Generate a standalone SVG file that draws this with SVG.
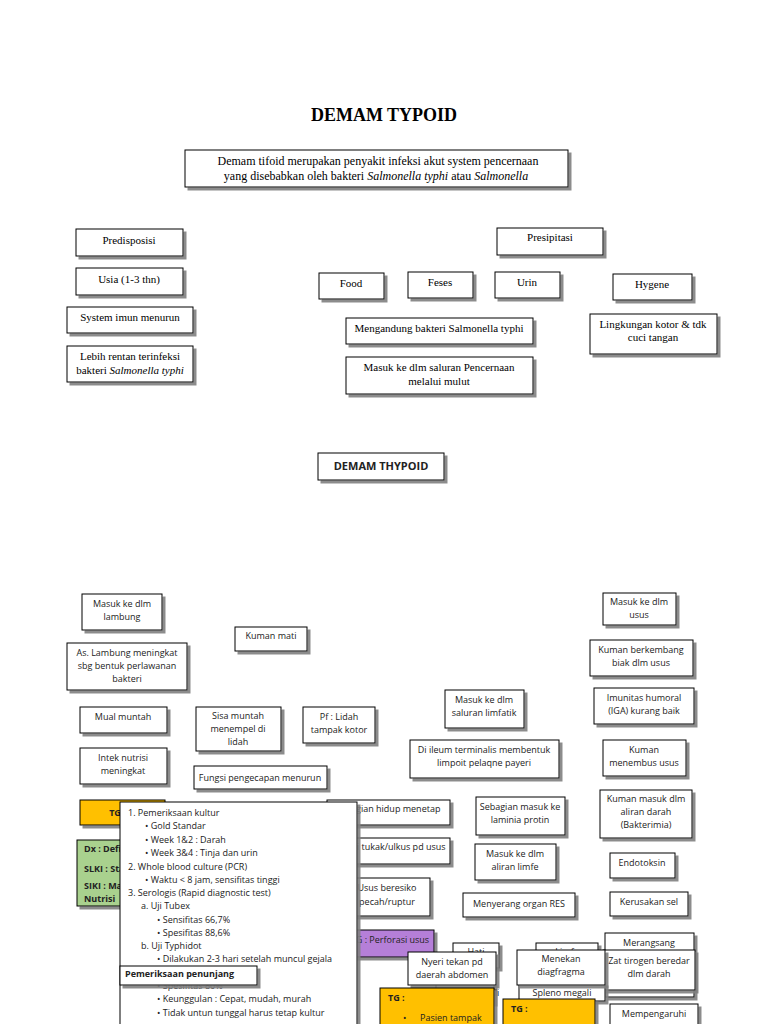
<svg xmlns="http://www.w3.org/2000/svg" width="768" height="1024" viewBox="0 0 768 1024">
<defs>
<filter id="sh" x="-10%" y="-10%" width="130%" height="140%"><feDropShadow dx="3" dy="3" stdDeviation="0.6" flood-color="#7f7f7f" flood-opacity="0.9"/></filter>
</defs>
<style>
.b{fill:#fff;stroke:#000;stroke-width:1;filter:url(#sh)}
.o{fill:#ffc000;stroke:#000;stroke-width:1;filter:url(#sh)}
.g{fill:#a9d18e;stroke:#000;stroke-width:1;filter:url(#sh)}
.p{fill:#b57fd8;stroke:#000;stroke-width:1;filter:url(#sh)}
.s{font-family:"Liberation Serif",serif;font-size:11px;fill:#000;text-anchor:middle}
.n{font-family:"Open Sans","Liberation Sans",sans-serif;font-size:9px;fill:#222;text-anchor:middle}
.l{font-family:"Open Sans","Liberation Sans",sans-serif;font-size:9px;fill:#222}
.bd{font-weight:bold}
</style>
<rect width="768" height="1024" fill="#fff"/>
<text x="384" y="121" class="s bd" style="font-size:18px">DEMAM TYPOID</text>
<g id="def"><rect class="b" x="185" y="150" width="383" height="37"/><text class="s" style="font-size:12px"><tspan x="378" y="165">Demam tifoid merupakan penyakit infeksi akut system pencernaan</tspan><tspan x="376" y="180">yang disebabkan oleh bakteri <tspan font-style="italic">Salmonella typhi</tspan> atau <tspan font-style="italic">Salmonella</tspan></tspan></text></g>
<g id="pred"><rect class="b" x="76" y="229" width="107" height="27"/><text class="s" x="129" y="244">Predisposisi</text></g>
<g id="usia"><rect class="b" x="76" y="268" width="107" height="27"/><text class="s" x="129" y="283">Usia (1-3 thn)</text></g>
<g id="imun"><rect class="b" x="67" y="307" width="126" height="26"/><text class="s" x="130" y="321">System imun menurun</text></g>
<g id="rentan"><rect class="b" x="67" y="346" width="126" height="36"/><text class="s"><tspan x="130" y="360">Lebih rentan terinfeksi</tspan><tspan x="130" y="374">bakteri <tspan font-style="italic">Salmonella typhi</tspan></tspan></text></g>
<g id="pres"><rect class="b" x="497" y="228" width="106" height="27"/><text class="s" x="550" y="241">Presipitasi</text></g>
<g id="food"><rect class="b" x="319" y="273" width="65" height="26"/><text class="s" x="351" y="287">Food</text></g>
<g id="feses"><rect class="b" x="408" y="272" width="65" height="26"/><text class="s" x="440" y="286">Feses</text></g>
<g id="urin"><rect class="b" x="495" y="272" width="65" height="26"/><text class="s" x="527" y="286">Urin</text></g>
<g id="hyg"><rect class="b" x="613" y="274" width="79" height="26"/><text class="s" x="652" y="288">Hygene</text></g>
<g id="meng"><rect class="b" x="346" y="318" width="187" height="26"/><text class="s" x="439" y="332">Mengandung bakteri Salmonella typhi</text></g>
<g id="sal"><rect class="b" x="346" y="357" width="187" height="37"/><text class="s"><tspan x="439" y="371">Masuk ke dlm saluran Pencernaan</tspan><tspan x="439" y="385">melalui mulut</tspan></text></g>
<g id="ling"><rect class="b" x="590" y="314" width="127" height="40"/><text class="s"><tspan x="653" y="328">Lingkungan kotor &amp; tdk</tspan><tspan x="653" y="341">cuci tangan</tspan></text></g>
<g id="dt"><rect class="b" x="318" y="453" width="126" height="27"/><text class="n bd" style="font-size:11px" x="381" y="470">DEMAM THYPOID</text></g>

<g id="lamb"><rect class="b" x="82" y="594" width="80" height="36"/><text class="n"><tspan x="122" y="607">Masuk ke dlm</tspan><tspan x="122" y="620">lambung</tspan></text></g>
<g id="mati"><rect class="b" x="235" y="627" width="72" height="24"/><text class="n" x="271" y="639">Kuman mati</text></g>
<g id="asl"><rect class="b" x="67" y="643" width="120" height="47"/><text class="n"><tspan x="127" y="656">As. Lambung meningkat</tspan><tspan x="127" y="669">sbg bentuk perlawanan</tspan><tspan x="127" y="682">bakteri</tspan></text></g>
<g id="mual"><rect class="b" x="80" y="707" width="87" height="26"/><text class="n" x="123" y="720">Mual muntah</text></g>
<g id="sisa"><rect class="b" x="196" y="707" width="85" height="44"/><text class="n"><tspan x="238" y="719">Sisa muntah</tspan><tspan x="238" y="732">menempel di</tspan><tspan x="238" y="745">lidah</tspan></text></g>
<g id="pf"><rect class="b" x="303" y="707" width="72" height="36"/><text class="n"><tspan x="339" y="720">Pf : Lidah</tspan><tspan x="339" y="733">tampak kotor</tspan></text></g>
<g id="intek"><rect class="b" x="80" y="748" width="87" height="36"/><text class="n"><tspan x="123" y="761">Intek nutrisi</tspan><tspan x="123" y="774">meningkat</tspan></text></g>
<g id="fungsi"><rect class="b" x="194" y="766" width="133" height="23"/><text class="n" x="260" y="781">Fungsi pengecapan menurun</text></g>
<g id="tg1"><rect class="o" x="80" y="800" width="85" height="25"/><text class="n bd" x="115" y="816">TG</text></g>
<g id="dx"><rect class="g" x="77" y="840" width="90" height="66"/><text class="l bd"><tspan x="84" y="852">Dx : Defisit</tspan><tspan x="84" y="872">SLKI : Status</tspan><tspan x="84" y="889">SIKI : Manajemen</tspan><tspan x="84" y="902">Nutrisi</tspan></text></g>
<g id="seb"><rect class="b" x="327" y="800" width="123" height="25"/><text class="n" x="388" y="812">Sebagian hidup menetap</text></g>
<g id="tuk"><rect class="b" x="327" y="838" width="123" height="26"/><text class="n" x="388" y="850">Terjadi tukak/ulkus pd usus</text></g>
<g id="usus"><rect class="b" x="327" y="878" width="103" height="38"/><text class="n"><tspan x="387" y="891">Usus beresiko</tspan><tspan x="387" y="905">pecah/ruptur</tspan></text></g>
<g id="perf"><rect class="p" x="327" y="930" width="107" height="27"/><text class="n" x="390" y="943">TG : Perforasi usus</text></g>
<g id="list"><rect class="b" x="120" y="802" width="237" height="230"/>
<text class="l"><tspan x="128" y="816">1.  Pemeriksaan kultur</tspan><tspan x="145" y="829">•   Gold Standar</tspan><tspan x="145" y="843">•   Week 1&amp;2 : Darah</tspan><tspan x="145" y="856">•   Week 3&amp;4 : Tinja dan urin</tspan><tspan x="128" y="870">2.  Whole blood culture (PCR)</tspan><tspan x="145" y="883">•   Waktu &lt; 8 jam, sensifitas tinggi</tspan><tspan x="128" y="896">3.  Serologis (Rapid diagnostic test)</tspan><tspan x="141" y="909">a.  Uji Tubex</tspan><tspan x="157" y="923">•   Sensifitas 66,7%</tspan><tspan x="157" y="936">•   Spesifitas 88,6%</tspan><tspan x="141" y="949">b.  Uji Typhidot</tspan><tspan x="157" y="962">•   Dilakukan 2-3 hari setelah muncul gejala</tspan><tspan x="157" y="989">•   Spesifitas 80%</tspan><tspan x="157" y="1002">•   Keunggulan : Cepat, mudah, murah</tspan><tspan x="157" y="1016">•   Tidak untun tunggal harus tetap kultur</tspan></text></g>
<g id="pen"><rect class="b" x="120" y="966" width="137" height="19"/><text class="l bd" x="125" y="977">Pemeriksaan penunjang</text></g>
<g id="limf"><rect class="b" x="445" y="690" width="79" height="38"/><text class="n"><tspan x="484" y="703">Masuk ke dlm</tspan><tspan x="484" y="716">saluran limfatik</tspan></text></g>
<g id="ileum"><rect class="b" x="410" y="740" width="149" height="38"/><text class="n"><tspan x="484" y="753">Di ileum terminalis membentuk</tspan><tspan x="484" y="766">limpoit pelaqne payeri</tspan></text></g>
<g id="lam"><rect class="b" x="476" y="797" width="89" height="38"/><text class="n"><tspan x="520" y="810">Sebagian masuk ke</tspan><tspan x="520" y="823">laminia protin</tspan></text></g>
<g id="alimf"><rect class="b" x="475" y="844" width="81" height="36"/><text class="n"><tspan x="515" y="857">Masuk ke dlm</tspan><tspan x="515" y="870">aliran limfe</tspan></text></g>
<g id="res"><rect class="b" x="463" y="893" width="112" height="24"/><text class="n" x="519" y="907">Menyerang organ RES</text></g>
<g id="mu"><rect class="b" x="603" y="593" width="73" height="32"/><text class="n"><tspan x="639" y="605">Masuk ke dlm</tspan><tspan x="639" y="618">usus</tspan></text></g>
<g id="kb"><rect class="b" x="590" y="640" width="103" height="36"/><text class="n"><tspan x="641" y="653">Kuman berkembang</tspan><tspan x="641" y="666">biak dlm usus</tspan></text></g>
<g id="imh"><rect class="b" x="594" y="688" width="100" height="36"/><text class="n"><tspan x="644" y="701">Imunitas humoral</tspan><tspan x="644" y="714">(IGA) kurang baik</tspan></text></g>
<g id="km"><rect class="b" x="603" y="740" width="83" height="36"/><text class="n"><tspan x="644" y="753">Kuman</tspan><tspan x="644" y="766">menembus usus</tspan></text></g>
<g id="kad"><rect class="b" x="600" y="790" width="92" height="48"/><text class="n"><tspan x="646" y="802">Kuman masuk dlm</tspan><tspan x="646" y="815">aliran darah</tspan><tspan x="646" y="828">(Bakterimia)</tspan></text></g>
<g id="endo"><rect class="b" x="610" y="853" width="65" height="25"/><text class="n" x="642" y="866">Endotoksin</text></g>
<g id="ker"><rect class="b" x="610" y="892" width="78" height="24"/><text class="n" x="649" y="905">Kerusakan sel</text></g>
<g id="mer"><rect class="b" x="605" y="933" width="89" height="64"/><text class="n" x="649" y="946">Merangsang</text></g>
<g id="zat"><rect class="b" x="603" y="950" width="92" height="40"/><text class="n"><tspan x="649" y="964">Zat tirogen beredar</tspan><tspan x="649" y="977">dlm darah</tspan></text></g>
<g id="memp"><rect class="b" x="610" y="1004" width="88" height="30"/><text class="n" x="654" y="1017">Mempengaruhi</text></g>
<g id="hati"><rect class="b" x="453" y="943" width="46" height="25"/><text class="n" x="476" y="955">Hati</text></g>
<g id="hm"><rect class="b" x="436" y="983" width="58" height="20"/><text class="n" x="470" y="996">Hepatomegali</text></g>
<g id="nyeri"><rect class="b" x="408" y="952" width="88" height="33"/><text class="n"><tspan x="452" y="965">Nyeri tekan pd</tspan><tspan x="452" y="978">daerah abdomen</tspan></text></g>
<g id="tg2"><rect class="o" x="380" y="988" width="114" height="40"/><text class="l bd"><tspan x="388" y="1001">TG :</tspan></text><text class="l"><tspan x="403" y="1021">•</tspan><tspan x="420" y="1021">Pasien tampak</tspan></text></g>
<g id="lim"><rect class="b" x="536" y="943" width="62" height="25"/><text class="n" x="567" y="955">Limfa</text></g>
<g id="spl"><rect class="b" x="519" y="983" width="86" height="18"/><text class="n" x="562" y="996">Spleno megali</text></g>
<g id="men"><rect class="b" x="517" y="950" width="88" height="35"/><text class="n"><tspan x="561" y="962">Menekan</tspan><tspan x="561" y="975">diagfragma</tspan></text></g>
<g id="tg3"><rect class="o" x="503" y="999" width="92" height="30"/><text class="l bd" x="511" y="1012">TG :</text></g>
<g id="connectors"></g>
</svg>
